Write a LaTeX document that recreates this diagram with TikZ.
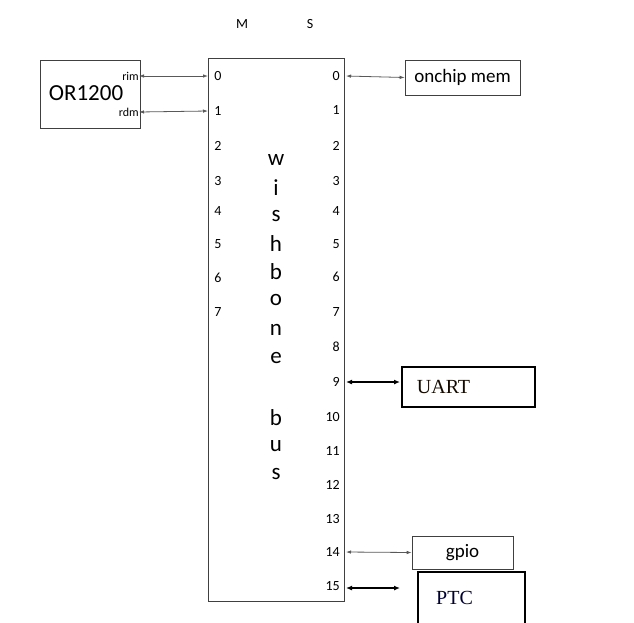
\documentclass[tikz,border=0pt]{standalone}
\usepackage{fontspec}
\setmainfont{Carlito}
\newfontfamily\tms{Liberation Serif}
\usetikzlibrary{arrows.meta}
\begin{document}
\begin{tikzpicture}[x=1pt,y=-1pt,
  box/.style={draw=black!75,line width=0.6pt,inner sep=0pt},
  tbox/.style={draw=black,line width=1.5pt,inner sep=0pt},
  lbl/.style={font=\fontsize{14}{15}\selectfont,inner sep=0pt},
  thin/.style={draw=black!65,line width=0.8pt,{Latex[length=5pt,width=3.5pt]}-{Latex[length=5pt,width=3.5pt]}},
  thick/.style={draw=black,line width=1.5pt,{Latex[length=6pt,width=5pt]}-{Latex[length=6pt,width=5pt]}}]
\useasboundingbox (0,0) rectangle (634,622);
\draw[box] (208,58) rectangle (344,601);
\node[box,minimum width=100pt,minimum height=68pt] (or) at (90,94) {};
\node[font=\fontsize{23}{25}\selectfont] (ort) at (86,93) {OR1200};
\node[lbl,anchor=east,font=\fontsize{12}{13}\selectfont] (rim) at (139,76) {rim};
\node[lbl,anchor=east,font=\fontsize{12}{13}\selectfont] (rdm) at (139,112) {rdm};
\node[box,minimum width=115pt,minimum height=35pt,font=\fontsize{19}{20}\selectfont] (mem) at (462.5,77.5) {onchip mem};
\node[tbox,minimum width=133pt,minimum height=40pt,font=\tms\fontsize{20}{21}\selectfont,text=black!80!orange!40!black] (uart) at (468.5,387) {\hspace*{-50pt}UART};
\node[box,minimum width=101pt,minimum height=33pt,font=\fontsize{19}{20}\selectfont] (gpio) at (462.5,552.5) {gpio};
\node[tbox,minimum width=107pt,minimum height=52pt,font=\tms\fontsize{20}{21}\selectfont,text=black!80!blue] (ptc) at (471.5,598) {\hspace*{-34pt}PTC};
\node[lbl] (M) at (242,24) {M};
\node[lbl] (S) at (310,24) {S};
\foreach \n/\y in {0/76,1/111,2/146,3/181,4/211,5/244,6/278,7/312}
  \node[lbl] (m\n) at (218,\y) {\n};
\foreach \n/\y in {0/76,1/110,2/146,3/181,4/211,5/244,6/277,7/312,8/347,9/382,10/417,11/451,12/485,13/519,14/552,15/586}
  \node[lbl,anchor=east] (s\n) at (340,\y) {\n};
\foreach \c/\y [count=\i] in {w/160,i/188,s/216,h/244,b/272,o/300,n/330,e/358,b/418,u/446,s/474}
  \node[font=\fontsize{23}{25}\selectfont] (l\i) at (276,\y) {\c};
\coordinate (a1) at (208,76); \coordinate (a2) at (208,111);
\coordinate (b0) at (346,76); \coordinate (b9) at (346,382);
\coordinate (b14) at (346,552); \coordinate (b15) at (346,588);
\coordinate (u) at (400,382); \coordinate (p) at (400,588);
\draw[thin] (rim.east) -- (a1);
\draw[thin] (rdm.east) -- (a2);
\draw[thin] (b0) -- (mem.west);
\draw[thick] (b9) -- (u);
\draw[thin] (b14) -- (gpio.west);
\draw[thick] (b15) -- (p);
\end{tikzpicture}
\end{document}
